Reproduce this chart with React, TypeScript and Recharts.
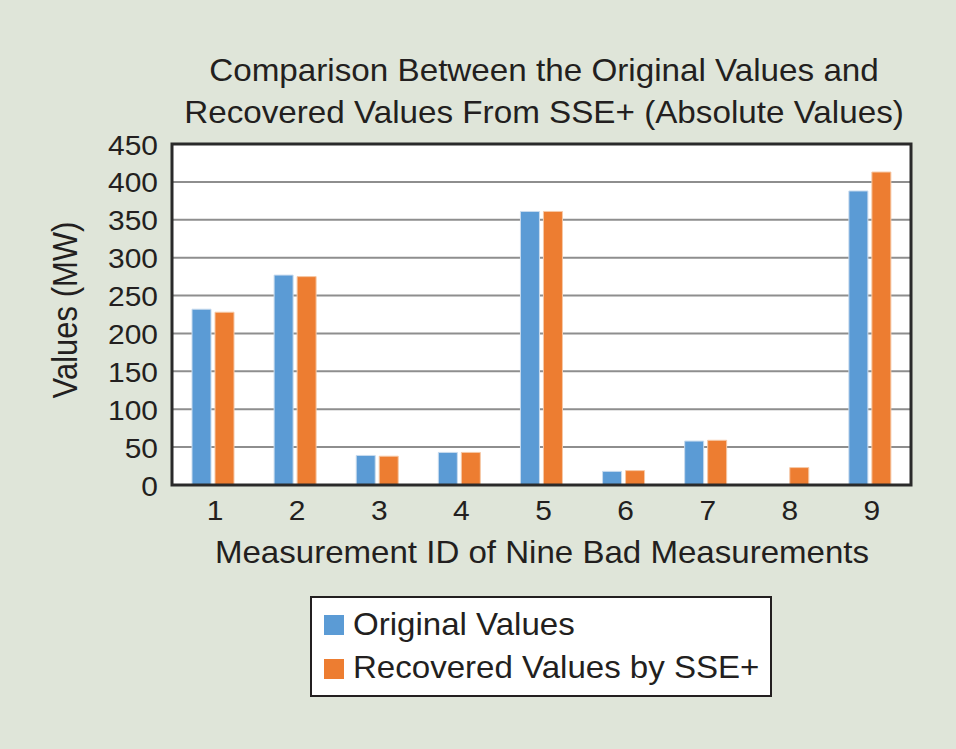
import { BarChart, Bar, XAxis, YAxis, CartesianGrid } from "recharts";

// Nine bad measurements: original vs. values recovered by SSE+ (MW)
const measurementIds = ["1", "2", "3", "4", "5", "6", "7", "8", "9"];
const originalValues = [232, 277, 39, 43, 361, 18, 58, 0, 388];
const recoveredValues = [228, 275, 38, 43, 361, 19, 59, 23, 413];
const yTicks = [0, 50, 100, 150, 200, 250, 300, 350, 400, 450];

const data = measurementIds.map((id, i) => ({
  id,
  original: originalValues[i],
  recovered: recoveredValues[i],
}));

const BG = "#dfe5d9";
const INK = "#231f20";
const BLUE = "#5b9bd5";
const ORANGE = "#ed7d31";
const FONT = "'Liberation Sans', Arial, Helvetica, sans-serif";

// horizontally widened text, anchored at its baseline
function Txt({ x, y, size, sx = 1.05, anchor = "middle", children }: any) {
  return (
    <text
      transform={`translate(${x},${y}) scale(${sx},1)`}
      textAnchor={anchor}
      fill={INK}
      fontSize={size}
      fontFamily={FONT}
    >
      {children}
    </text>
  );
}

function YTick({ x, y, payload }: any) {
  return (
    <Txt x={x} y={y + 10.5} size={28} sx={1.07} anchor="end">
      {payload.value}
    </Txt>
  );
}

function XTick({ x, y, payload }: any) {
  return (
    <Txt x={x + 2} y={y + 35} size={28} sx={1.07}>
      {payload.value}
    </Txt>
  );
}

export default function App() {
  return (
    <div style={{ position: "relative", width: 956, height: 749, background: BG }}>
      <style>{`body{margin:0}`}</style>
      <BarChart
        width={956}
        height={749}
        data={data}
        margin={{ top: 144, right: 45, bottom: 224, left: 112 }}
        barSize={19}
        barGap={4}
      >
        <CartesianGrid
          vertical={false}
          fill="#ffffff"
          stroke="#8e8e8e"
          strokeWidth={2}
        />
        <XAxis
          dataKey="id"
          height={40}
          axisLine={false}
          tickLine={false}
          tickSize={0}
          tickMargin={0}
          tick={<XTick />}
          interval={0}
        />
        <YAxis
          width={60}
          domain={[0, 450]}
          ticks={yTicks}
          axisLine={false}
          tickLine={false}
          tickSize={0}
          tickMargin={14}
          tick={<YTick />}
          interval={0}
        />
        <Bar
          dataKey="original"
          fill={BLUE}
          stroke="#c8dbee"
          strokeWidth={1}
          isAnimationActive={false}
        />
        <Bar
          dataKey="recovered"
          fill={ORANGE}
          stroke="#f6c8a6"
          strokeWidth={1}
          isAnimationActive={false}
        />
      </BarChart>

      <svg
        width={956}
        height={749}
        style={{ position: "absolute", left: 0, top: 0, pointerEvents: "none" }}
      >
        {/* plot frame */}
        <rect x={172} y={144} width={739} height={341} fill="none" stroke="#2a2a2a" strokeWidth={3} />

        {/* title */}
        <Txt x={544} y={81} size={31.5} sx={1.055}>
          Comparison Between the Original Values and
        </Txt>
        <Txt x={544} y={123} size={31.5} sx={1.055}>
          Recovered Values From SSE+ (Absolute Values)
        </Txt>

        {/* axis titles */}
        <Txt x={542} y={563} size={31.5} sx={1.05}>
          Measurement ID of Nine Bad Measurements
        </Txt>
        <text
          transform="translate(77,310) rotate(-90) scale(1,1.12)"
          textAnchor="middle"
          fill={INK}
          fontSize={31}
          fontFamily={FONT}
        >
          Values (MW)
        </text>

        {/* legend */}
        <rect x={311} y={597} width={460} height={99} fill="#ffffff" stroke={INK} strokeWidth={2} />
        <rect x={324} y={615} width={20} height={20} fill={BLUE} />
        <Txt x={353} y={635} size={31.5} sx={1.05} anchor="start">
          Original Values
        </Txt>
        <rect x={324} y={659} width={20} height={20} fill={ORANGE} />
        <Txt x={353} y={678} size={31.5} sx={1.05} anchor="start">
          Recovered Values by SSE+
        </Txt>
      </svg>
    </div>
  );
}
